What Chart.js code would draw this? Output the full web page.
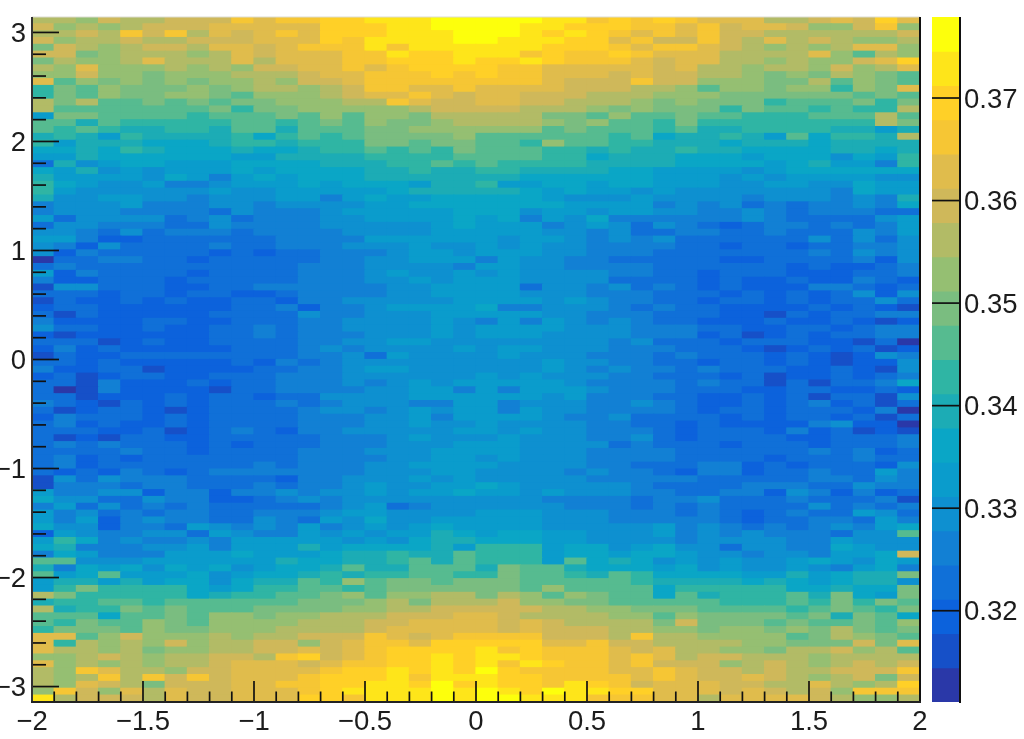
<!DOCTYPE html>
<html><head><meta charset="utf-8">
<script src="https://cdn.jsdelivr.net/npm/chart.js@4/dist/chart.umd.min.js"></script>
<style>html,body{margin:0;padding:0;background:#fff;width:1024px;height:739px;overflow:hidden}canvas{position:absolute;left:0;top:0}</style>
</head><body>
<canvas id="main" width="1024" height="739"></canvas>
<canvas id="bar" width="1024" height="739"></canvas>
<script>
// Each character is a colour-band level (base 20); rows run top to bottom.
const rowsLeft = ["ddceddeeegfgg","ecdcdeeefffff","ddedgegdfefgf","ecddeddeeefff","bedcdeedffefg","eebcdddcdfeff","bdccdfdddfdff","dcfcccdcdceef","cceccbcccddde","facbcbcbccdce","9bacbbbcbcddc","9bacbbccbaccc","dbdaabababbcc","daaaaaaab9bbc","6bbaaaa9aaaba","aa8a99999aa9a","a9a988998aa8a","898698888979a","9688877789989","7787987778778","6687777776688","3856776667777","7685656667677","8666657646767","9765564456667","9655555565566","8556655455566","4555644455455","4555444435444","6355553453444","3554443354444","5543534443444","6642233333344","5425333343344","5243333323233","0334433233333","3433333333334","6243333233334","4223332333334","1553332233444","3332332332234","1322323223324","2332222223342","3132222233335","4222233223334","5332232233434","2122222233434","3331232233334","2423222223334","1322333333334","3323222223243","4223312222334","2312332233344","3314222323344","3014222213344","3312223233233","4321323233343","3123321233334","2433323233334","3423223233334","3332231234324","3121332233333","3434333232333","3333433233334","3423233333334","3423333333434","3232432344444","1535444333324","1444344333434","6445524424454","7553354422345","4635343433333","6453434433444","6462454433543","7552443654546","2654455365446","6974544546666","7844455646668","4764446667666","aa55566666687","8476757675677","a67a666756778","688686775788a","69b999976799a","db999997899aa","899aa9aaaaaab","d899babaaabbb","aaa7aabaccbcc","a9baacbaccccd","9bbbacbbcccdd","ffacecccdcdde","f9dcdcecddeec","fddcdbccddeef","ccdedcddeedgh","fcdcdcddefffe","dcgfddceeffff","dcdgdgegefffg","dcfedbeeeffgg","cgecfdfeefffg","ideeedfeefffh"];
const rowsMiddle = ["hhiiijjjjjiighg","hhhiijjjjiihhhg","hhhiiijjjihihgf","hgiiiijjiiihhfg","ggigiiiiiihhhgf","fggihhiiighgghg","fgghhhihhihgggf","fgfghhhhggfffff","ffggghghggfffef","efggggggggfeeeg","deggffgffffeeed","deffgfeffeeeddd","cddgfeeffeedddc","ccccdeeeedddcbc","caccbdddddbbaca","bacbbcddddcbcaa","aabbccccccabaaa","9abbbbcaaaaaa9a","99bbabbaa9caa99","99a9a9baaa99898","889999aaaa99788","88899a9a9999888","778898899888877","778888888777777","677768896677677","666788888767665","467667777765556","556677777776666","566666777566566","556666767465744","555556766645653","455556666655453","446666665665454","455565565655444","444566566655444","445566646554433","445555466554444","445655656555544","445565666555533","444556666355453","444556666555444","455555666656544","445666674455543","445556666655444","455556546465454","455556566665554","445556566655554","455665555555545","545555656655544","453655556555444","455555555565544","456655555565454","455555565655544","454565666665444","445566464666544","555566666656444","455544664555445","554565664655444","445564666654453","445565565555443","455555665655444","444565556555445","444555666555534","445556666555444","444556656555444","445566665555443","445556655554544","455565655555444","456556676555554","556566766565554","455555555544443","456345555554443","566555566655544","657556666655544","456567666655555","565668767766555","656578877766555","677778699967756","788988a99967767","7889a8a9996a787","8a88aaa8baa8777","9899aa99baa98a9","9cabbabbbaaaaa9","a9abbbbbbacaaaa","bcaccddbdcacbaa","bbcdbdddeccbbaa","bccddeeeeeddccb","dddeeeffeddddcc","ddeeffffefedddd","ddefffffefeeedd","eegfefggggeeedg","efggfhhhhhffgee","efghhhhighgggfe","efghhihiihgggfg","fgghhihigihggfg","ghhihihjhggggff","hhhigiiihhggggf","hhiihjhihhgihge","hiiiijijihjiihh","hgiiijijjiiiggg"];
const rowsRight = ["hgfffddefehf","gfgeffeccegc","gfgeedddddde","eegedfdedccd","ggfedcdcdffc","fffddddfcadc","effddcdccefh","efddcddcecdf","eeddcbcbdcba","eecccbbdacba","dcaccbcc9cbf","cccbbbbbbaba","bcbbb9aaab9b","bbb9baa9a99d","abaa999aaada","9b99999999db","9a8899998868","788986a7998d","888788878888","898877778878","877767775769","877776786649","666656777777","666565666655","666556655766","655555554766","555545554548","454534344547","554454344433","444454333356","543234434346","344334333546","533333353535","433233233445","333333343545","333223333425","333333232234","332333222334","332322322432","432322244323","333232323525","332332323353","433222232321","333221323344","332223223212","443322332344","442312323344","333233322130","433321232312","343332321254","332332321225","434333223215","333231223234","434331313347","433322332232","332232313315","432232342313","432332333240","333232332313","323222245220","323332423121","323333223334","333233323334","433333343423","433332333433","334423233325","324423343364","443333344354","333344433544","433442542423","445333433341","434333353434","434323433653","444323344364","645434345467","64545444355a","545555446555","755355447655","76554554667e","565655676576","675655654674","77776686788b","888878767885","79999977877b","7a8999a8b76b","aaa999a9b9ba","bbaaaa9aba9b","acbbbbab8ba7","bebbbabaabac","ccbccbcbdbab","ddccccabdcba","ddddccbbbebf","fddccbddecda","fdeedddcdddd","eeecdedcdede","gfeededdeeeg","gfeefedcdebe","fffeeddfdcdh","fffefedecggg","ffdffffedccd"];
const palette = ["#2a38a8","#1650c8","#0c62dc","#1070d8","#1280d4","#0e90d0","#0a9ccc","#0aa6c6","#1cacb5","#2fb5a4","#56bb90","#7abd80","#95bf72","#b2bb66","#cfb85a","#e0bc4c","#f6c634","#ffd027","#fee51a","#fdff0c"];
const xTickValues = [-2,-1.5,-1,-0.5,0,0.5,1,1.5,2];
const yTickValues = [-3,-2,-1,0,1,2,3];
const zTickValues = [0.32,0.33,0.34,0.35,0.36,0.37];
const xRange = [-2,2];
const yRange = [-Math.PI,Math.PI];
const zRange = [0.3111,0.3779];

const FONT = {family:"'Liberation Sans', Arial, sans-serif", size:27.5};
const INK = '#1c1c1c';
const fmt = v => (v<0?'\u2212':'') + Math.abs(v);
const setTicks = vals => s => { s.ticks = vals.map(value=>({value})); };
const fitBox = (prop,size) => s => { s[prop]=size; s.paddingTop=0; s.paddingBottom=0; s.paddingLeft=0; s.paddingRight=0; };
const noGrid = {display:false,drawTicks:false};

const nCols = 40, nRows = rowsLeft.length;
const dx = (xRange[1]-xRange[0])/nCols, dy = (yRange[1]-yRange[0])/nRows;
const dz = (zRange[1]-zRange[0])/palette.length;
const cells = [], cellColors = [];
rowsLeft.forEach((_,r)=>{
  const row = rowsLeft[r]+rowsMiddle[r]+rowsRight[r];
  const yTop = yRange[1]-r*dy;
  for(let c=0;c<nCols;c++){
    const lvl = parseInt(row[c],20);
    cells.push({x:xRange[0]+(c+0.5)*dx, y:[yTop-dy,yTop], z:zRange[0]+(lvl+0.5)*dz});
    cellColors.push(palette[lvl]);
  }
});

function line(ctx,x1,y1,x2,y2,w,col){ctx.save();ctx.beginPath();ctx.lineWidth=w;ctx.strokeStyle=col||'#111';ctx.moveTo(x1,y1);ctx.lineTo(x2,y2);ctx.stroke();ctx.restore();}

const frameTicks = {id:'frameTicks',afterDatasetsDraw(ch){
  const {ctx,chartArea:a,scales:{x,y}} = ch;
  line(ctx,a.left,a.top,a.right,a.top,1,'#dcdcd0');
  for(let i=1;i<40;i++){const v=-2+i*0.1;const major=i%5===0;const p=x.getPixelForValue(v);line(ctx,p,a.bottom,p,a.bottom-(major?21:10.5),1.7);}
  for(let v=-3;v<=3;v++){for(let k=0;k<5;k++){const t=v+k*0.2;if(t>Math.PI)continue;const p=y.getPixelForValue(t);line(ctx,a.left,p,a.left+(k===0?27:14),p,1.7);}}
  line(ctx,a.left,a.top,a.left,a.bottom,2,'#333');
  line(ctx,a.right,a.top,a.right,a.bottom+1,2);
  line(ctx,a.left-1,a.bottom,a.right+1,a.bottom,2,'#222');
}};

new Chart(document.getElementById('main'),{
  type:'bar',
  data:{datasets:[{data:cells,backgroundColor:cellColors,borderWidth:0,inflateAmount:0.6,barPercentage:1,categoryPercentage:1}]},
  options:{responsive:false,animation:false,events:[],
    layout:{padding:{top:17,right:104,left:0,bottom:0}},
    plugins:{legend:{display:false},tooltip:{enabled:false}},
    scales:{
      x:{type:'linear',offset:false,min:xRange[0],max:xRange[1],grid:noGrid,border:{display:false},
         afterBuildTicks:setTicks(xTickValues),afterFit:fitBox('height',37),
         ticks:{font:FONT,color:INK,padding:4,maxRotation:0,autoSkip:false,callback:fmt}},
      y:{type:'linear',min:yRange[0],max:yRange[1],grid:noGrid,border:{display:false},
         afterBuildTicks:setTicks(yTickValues),afterFit:fitBox('width',32),
         ticks:{font:FONT,color:INK,padding:6,labelOffset:2,autoSkip:false,callback:fmt}}
    }},
  plugins:[frameTicks]
});

const zBands = palette.map((_,i)=>[zRange[0]+i*dz,zRange[0]+(i+1)*dz]);
const barTicks = {id:'barTicks',afterDatasetsDraw(ch){
  const {ctx,chartArea:a,scales:{y}} = ch;
  zTickValues.forEach(v=>{const p=y.getPixelForValue(v);line(ctx,a.left,p,a.right,p,1.7);});
  line(ctx,a.right,a.top,a.right,a.bottom+1,2);
}};
new Chart(document.getElementById('bar'),{
  type:'bar',
  data:{datasets:[{data:zBands.map(b=>({x:0,y:b})),backgroundColor:palette,borderWidth:0,inflateAmount:0.6,barPercentage:1,categoryPercentage:1}]},
  options:{responsive:false,animation:false,events:[],
    layout:{padding:{top:17,left:932,right:0,bottom:37}},
    plugins:{legend:{display:false},tooltip:{enabled:false}},
    scales:{
      x:{type:'linear',display:false,offset:false,min:-0.5,max:0.5},
      y:{type:'linear',position:'right',min:zRange[0],max:zRange[1],grid:noGrid,border:{display:false},
         afterBuildTicks:setTicks(zTickValues),afterFit:fitBox('width',64),
         ticks:{font:FONT,color:INK,padding:4,labelOffset:2,autoSkip:false,callback:v=>v.toFixed(2)}}
    }},
  plugins:[barTicks]
});
</script>
</body></html>
